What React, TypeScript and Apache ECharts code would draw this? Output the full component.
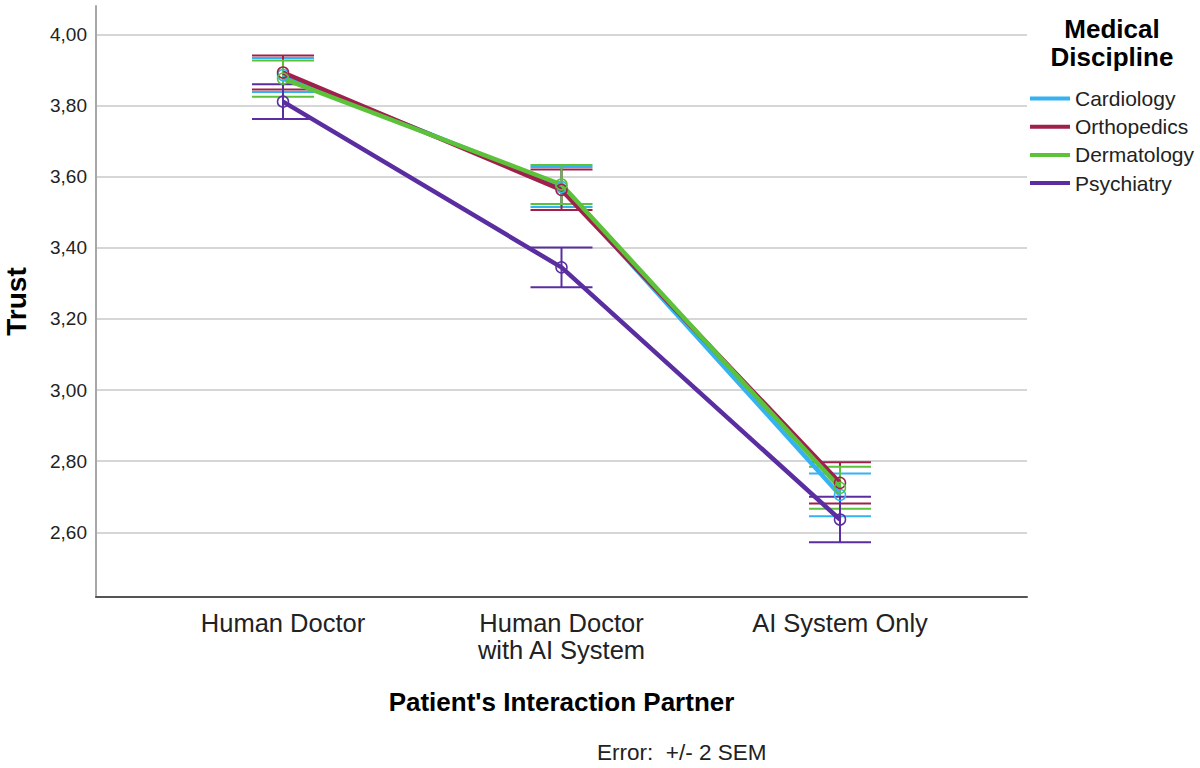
import React, { useEffect, useRef } from 'react';
import * as echarts from 'echarts';

const categories = ['Human Doctor', 'Human Doctor\nwith AI System', 'AI System Only'];
const disciplines = ['Cardiology', 'Orthopedics', 'Dermatology', 'Psychiatry'];
const colors = ['#35b2f2', '#a0204d', '#5cc23a', '#5a2ea0'];

const cardiologyMean = [3.886, 3.571, 2.705];
const cardiologyErr = [0.048, 0.056, 0.06];
const orthopedicsMean = [3.893, 3.563, 2.739];
const orthopedicsErr = [0.048, 0.057, 0.058];
const dermatologyMean = [3.876, 3.578, 2.725];
const dermatologyErr = [0.051, 0.055, 0.059];
const psychiatryMean = [3.811, 3.345, 2.636];
const psychiatryErr = [0.049, 0.056, 0.064];

const yTicks = [2.6, 2.8, 3.0, 3.2, 3.4, 3.6, 3.8, 4.0];

const means = [cardiologyMean, orthopedicsMean, dermatologyMean, psychiatryMean];
const errs = [cardiologyErr, orthopedicsErr, dermatologyErr, psychiatryErr];

const FONT = '"Liberation Sans", Arial, sans-serif';

export default function App() {
  const ref = useRef<HTMLDivElement>(null);
  useEffect(() => {
    if (!ref.current) return;
    const chart = echarts.init(ref.current, undefined, { renderer: 'svg' });

    const lineSeries = disciplines.map((name, i) => ({
      name,
      type: 'line',
      z: 3,
      data: means[i].map((m, j) => [j, m]),
      symbol: 'circle',
      symbolSize: 11,
      lineStyle: { color: colors[i], width: 4.5 },
      itemStyle: { color: 'rgba(0,0,0,0)', borderColor: colors[i], borderWidth: 1.5 },
      emphasis: { disabled: true },
    }));

    const errSeries = disciplines.map((name, i) => ({
      name: name + ' error',
      type: 'custom',
      z: 2,
      data: means[i].map((m, j) => [j, m - errs[i][j], m + errs[i][j]]),
      encode: { x: 0, y: [1, 2] },
      renderItem: (_params: any, api: any) => {
        const x = api.value(0);
        const pBot = api.coord([x, api.value(1)]);
        const pTop = api.coord([x, api.value(2)]);
        const hw = 31;
        const style = { stroke: colors[i], lineWidth: 2 };
        return {
          type: 'group',
          children: [
            { type: 'line', shape: { x1: pTop[0], y1: pTop[1], x2: pBot[0], y2: pBot[1] }, style },
            { type: 'line', shape: { x1: pTop[0] - hw, y1: pTop[1], x2: pTop[0] + hw, y2: pTop[1] }, style },
            { type: 'line', shape: { x1: pBot[0] - hw, y1: pBot[1], x2: pBot[0] + hw, y2: pBot[1] }, style },
          ],
        };
      },
    }));

    chart.setOption({
      animation: false,
      grid: { left: 96, right: 173, top: 6, bottom: 171, containLabel: false, outerBoundsMode: 'none' },
      xAxis: {
        type: 'value',
        min: -0.6715,
        max: 2.6715,
        splitNumber: 3,
        minInterval: 1,
        maxInterval: 1,
        name: "Patient's Interaction Partner",
        nameLocation: 'middle',
        nameGap: 92,
        nameTextStyle: { fontFamily: FONT, fontSize: 26, fontWeight: 'bold', color: '#000' },
        axisLine: { show: true, onZero: false, lineStyle: { color: '#555', width: 2 } },
        axisTick: { show: false },
        splitLine: { show: false },
        axisLabel: {
          show: true,
          showMinLabel: false,
          showMaxLabel: false,
          margin: 12,
          fontFamily: FONT,
          fontSize: 25.5,
          lineHeight: 27,
          color: '#222',
          formatter: (v: number) => {
            const k = Math.round(v);
            return Math.abs(v - k) < 1e-6 && k >= 0 && k < categories.length ? categories[k] : '';
          },
        },
      },
      yAxis: {
        type: 'value',
        min: 2.418,
        max: 4.08,
        splitNumber: 8,
        minInterval: 0.2,
        maxInterval: 0.2,
        name: 'Trust',
        nameLocation: 'middle',
        nameGap: 66,
        nameTextStyle: { fontFamily: FONT, fontSize: 28, fontWeight: 'bold', color: '#000' },
        axisLine: { show: true, onZero: false, lineStyle: { color: '#a8a8a8', width: 2 } },
        axisTick: { show: false },
        splitLine: { show: true, showMinLine: false, showMaxLine: false, lineStyle: { color: '#c8c8c8', width: 1.5 } },
        axisLabel: {
          showMinLabel: false,
          showMaxLabel: false,
          margin: 9,
          fontFamily: FONT,
          fontSize: 19,
          color: '#222',
          formatter: (v: number) => {
            const t = yTicks.find((y) => Math.abs(y - v) < 1e-6);
            return t === undefined ? '' : t.toFixed(2).replace('.', ',');
          },
        },
      },
      legend: {
        orient: 'vertical',
        left: 1030,
        top: 88,
        padding: 0,
        itemWidth: 40,
        itemHeight: 4,
        itemGap: 7.2,
        selectedMode: false,
        textStyle: { fontFamily: FONT, fontSize: 21, color: '#222', lineHeight: 20 },
        data: disciplines.map((n, i) => ({ name: n, icon: 'rect', itemStyle: { color: colors[i], borderWidth: 0 } })),
      },
      graphic: [
        {
          type: 'text',
          x: 1112,
          y: 15,
          style: {
            text: 'Medical\nDiscipline',
            fontFamily: FONT,
            fontSize: 26,
            fontWeight: 'bold',
            lineHeight: 28,
            fill: '#000',
            textAlign: 'center',
            textVerticalAlign: 'top',
          },
        },
        {
          type: 'text',
          x: 597,
          y: 752,
          style: {
            text: 'Error:  +/- 2 SEM',
            fontFamily: FONT,
            fontSize: 22.5,
            fill: '#222',
            textAlign: 'left',
            textVerticalAlign: 'middle',
          },
        },
      ],
      series: [...errSeries, ...lineSeries],
    });

    return () => chart.dispose();
  }, []);

  return (
    <div
      ref={ref}
      style={{ position: 'fixed', left: 0, top: 0, width: 1200, height: 768, background: '#fff' }}
    />
  );
}
